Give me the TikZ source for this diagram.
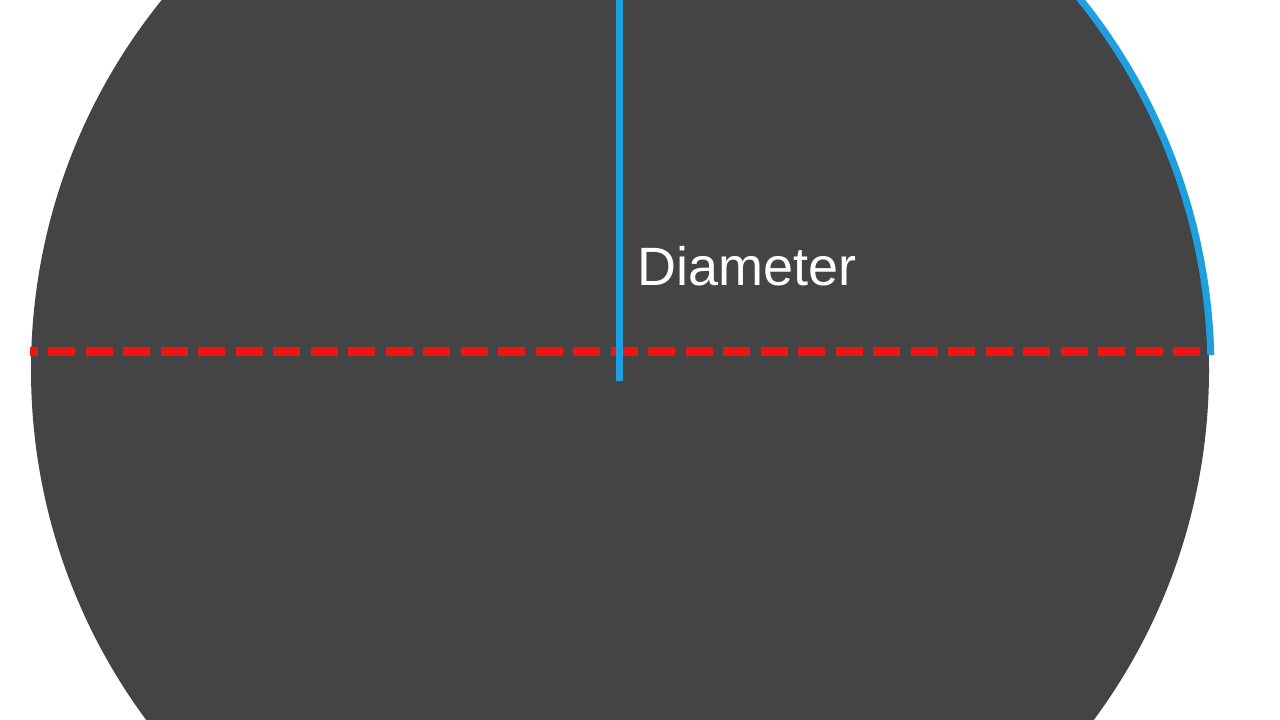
\documentclass[tikz,border=0pt]{standalone}
\usepackage{fontspec}
\setmainfont{Liberation Sans}
\definecolor{disc}{HTML}{444444}
\definecolor{blueline}{HTML}{1EA0E0}
\definecolor{redline}{HTML}{F01414}
\begin{document}
\begin{tikzpicture}[x=1pt,y=1pt,
  blueseg/.style={draw=blueline,line width=7pt},
  reddash/.style={draw=redline,line width=9pt,dash pattern=on 27pt off 10.5pt,dash phase=19.5pt},
  lbl/.style={text=white,font=\fontsize{54}{60}\selectfont,inner sep=0pt}]
\useasboundingbox (0,0) rectangle (1280,720);
\clip (0,0) rectangle (1280,720);
\fill[white] (0,0) rectangle (1280,720);
\coordinate (c) at (620,350);
\fill[disc] (c) circle[radius=589];
\coordinate (dl) at (30,368);
\coordinate (dr) at (1202,368);
\draw[reddash] (dl) -- (dr);
\coordinate (vt) at (619.5,730);
\coordinate (vb) at (619.5,339);
\draw[blueseg] (vt) -- (vb);
\draw[blueseg] ([shift={(1.45:591)}]c) arc[start angle=1.45,end angle=75,radius=591];
\node[lbl,anchor=base west] (label) at (637,434) {Diameter};
\end{tikzpicture}
\end{document}
